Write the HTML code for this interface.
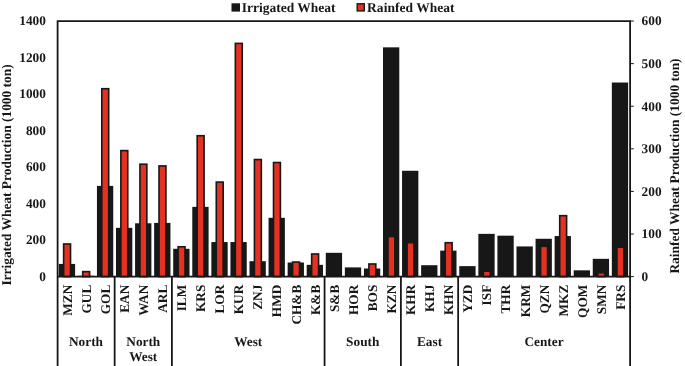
<!DOCTYPE html>
<html><head><meta charset="utf-8"><title>Wheat production</title>
<style>html,body{margin:0;padding:0;background:#fff}svg{display:block}text{font-family:"Liberation Serif","Times New Roman",serif;font-weight:bold;font-size:13.3px;fill:#171717;text-rendering:geometricPrecision}</style></head>
<body>
<svg width="685" height="366" viewBox="0 0 685 366">
<rect width="685" height="366" fill="#fff"/>
<rect x="58.80" y="263.93" width="16.30" height="12.67" fill="#171717"/>
<rect x="77.87" y="275.79" width="16.30" height="0.81" fill="#171717"/>
<rect x="96.94" y="185.90" width="16.30" height="90.70" fill="#171717"/>
<rect x="116.01" y="227.83" width="16.30" height="48.77" fill="#171717"/>
<rect x="135.08" y="223.28" width="16.30" height="53.32" fill="#171717"/>
<rect x="154.15" y="222.91" width="16.30" height="53.69" fill="#171717"/>
<rect x="173.22" y="248.80" width="16.30" height="27.80" fill="#171717"/>
<rect x="192.29" y="206.87" width="16.30" height="69.73" fill="#171717"/>
<rect x="211.36" y="242.06" width="16.30" height="34.54" fill="#171717"/>
<rect x="230.43" y="242.06" width="16.30" height="34.54" fill="#171717"/>
<rect x="249.50" y="261.20" width="16.30" height="15.40" fill="#171717"/>
<rect x="268.57" y="217.81" width="16.30" height="58.79" fill="#171717"/>
<rect x="287.64" y="262.48" width="16.30" height="14.12" fill="#171717"/>
<rect x="306.71" y="264.85" width="16.30" height="11.75" fill="#171717"/>
<rect x="325.78" y="252.81" width="16.30" height="23.79" fill="#171717"/>
<rect x="344.85" y="267.40" width="16.30" height="9.20" fill="#171717"/>
<rect x="363.92" y="268.49" width="16.30" height="8.11" fill="#171717"/>
<rect x="382.99" y="47.34" width="16.30" height="229.26" fill="#171717"/>
<rect x="402.06" y="170.77" width="16.30" height="105.83" fill="#171717"/>
<rect x="421.13" y="265.21" width="16.30" height="11.39" fill="#171717"/>
<rect x="440.20" y="250.62" width="16.30" height="25.98" fill="#171717"/>
<rect x="459.27" y="266.12" width="16.30" height="10.48" fill="#171717"/>
<rect x="478.34" y="233.85" width="16.30" height="42.75" fill="#171717"/>
<rect x="497.41" y="235.67" width="16.30" height="40.93" fill="#171717"/>
<rect x="516.48" y="246.43" width="16.30" height="30.17" fill="#171717"/>
<rect x="535.55" y="238.77" width="16.30" height="37.83" fill="#171717"/>
<rect x="554.62" y="236.04" width="16.30" height="40.56" fill="#171717"/>
<rect x="573.69" y="270.32" width="16.30" height="6.28" fill="#171717"/>
<rect x="592.76" y="258.83" width="16.30" height="17.77" fill="#171717"/>
<rect x="611.83" y="82.52" width="16.30" height="194.08" fill="#171717"/>
<rect x="63.63" y="243.98" width="6.90" height="32.62" fill="#e33222" stroke="#171717" stroke-width="1.6"/>
<rect x="82.71" y="271.63" width="6.90" height="4.97" fill="#e33222" stroke="#171717" stroke-width="1.6"/>
<rect x="101.79" y="88.70" width="6.90" height="187.90" fill="#e33222" stroke="#171717" stroke-width="1.6"/>
<rect x="120.87" y="150.60" width="6.90" height="126.00" fill="#e33222" stroke="#171717" stroke-width="1.6"/>
<rect x="139.95" y="164.21" width="6.90" height="112.39" fill="#e33222" stroke="#171717" stroke-width="1.6"/>
<rect x="159.03" y="165.92" width="6.90" height="110.68" fill="#e33222" stroke="#171717" stroke-width="1.6"/>
<rect x="178.11" y="246.75" width="6.90" height="29.85" fill="#e33222" stroke="#171717" stroke-width="1.6"/>
<rect x="197.19" y="135.71" width="6.90" height="140.89" fill="#e33222" stroke="#171717" stroke-width="1.6"/>
<rect x="216.27" y="182.08" width="6.90" height="94.52" fill="#e33222" stroke="#171717" stroke-width="1.6"/>
<rect x="235.35" y="43.40" width="6.90" height="233.20" fill="#e33222" stroke="#171717" stroke-width="1.6"/>
<rect x="254.43" y="159.53" width="6.90" height="117.07" fill="#e33222" stroke="#171717" stroke-width="1.6"/>
<rect x="273.51" y="162.51" width="6.90" height="114.09" fill="#e33222" stroke="#171717" stroke-width="1.6"/>
<rect x="292.59" y="262.06" width="6.90" height="14.54" fill="#e33222" stroke="#171717" stroke-width="1.6"/>
<rect x="311.67" y="253.98" width="6.90" height="22.62" fill="#e33222" stroke="#171717" stroke-width="1.6"/>
<rect x="368.91" y="263.97" width="6.90" height="12.63" fill="#e33222" stroke="#171717" stroke-width="1.6"/>
<rect x="387.99" y="236.54" width="6.90" height="40.06" fill="#e33222" stroke="#171717" stroke-width="1.6"/>
<rect x="407.07" y="242.70" width="6.90" height="33.90" fill="#e33222" stroke="#171717" stroke-width="1.6"/>
<rect x="445.23" y="242.70" width="6.90" height="33.90" fill="#e33222" stroke="#171717" stroke-width="1.6"/>
<rect x="483.39" y="271.21" width="6.90" height="5.39" fill="#e33222" stroke="#171717" stroke-width="1.6"/>
<rect x="540.63" y="246.32" width="6.90" height="30.28" fill="#e33222" stroke="#171717" stroke-width="1.6"/>
<rect x="559.71" y="215.69" width="6.90" height="60.91" fill="#e33222" stroke="#171717" stroke-width="1.6"/>
<rect x="597.87" y="272.70" width="6.90" height="3.90" fill="#e33222" stroke="#171717" stroke-width="1.6"/>
<rect x="616.95" y="247.17" width="6.90" height="29.43" fill="#e33222" stroke="#171717" stroke-width="1.6"/>
<path d="M57.60 366V21.05H630.10V366" fill="none" stroke="#171717" stroke-width="1.8"/>
<path d="M57.60 276.60H630.10" fill="none" stroke="#171717" stroke-width="1.7"/>
<path d="M114.65 276.60V366" stroke="#171717" stroke-width="1.8"/>
<path d="M171.90 276.60V366" stroke="#171717" stroke-width="1.8"/>
<path d="M324.57 276.60V366" stroke="#171717" stroke-width="1.8"/>
<path d="M400.90 276.60V366" stroke="#171717" stroke-width="1.8"/>
<path d="M458.15 276.60V366" stroke="#171717" stroke-width="1.8"/>
<path d="M630.10 276.60H633.80" stroke="#171717" stroke-width="1"/>
<text x="641.6" y="280.90">0</text>
<path d="M630.10 234.01H633.80" stroke="#171717" stroke-width="1"/>
<text x="641.6" y="238.31">100</text>
<path d="M630.10 191.42H633.80" stroke="#171717" stroke-width="1"/>
<text x="641.6" y="195.72">200</text>
<path d="M630.10 148.83H633.80" stroke="#171717" stroke-width="1"/>
<text x="641.6" y="153.13">300</text>
<path d="M630.10 106.23H633.80" stroke="#171717" stroke-width="1"/>
<text x="641.6" y="110.53">400</text>
<path d="M630.10 63.64H633.80" stroke="#171717" stroke-width="1"/>
<text x="641.6" y="67.94">500</text>
<path d="M630.10 21.05H633.80" stroke="#171717" stroke-width="1"/>
<text x="641.6" y="25.35">600</text>
<text x="45.9" y="280.90" text-anchor="end">0</text>
<text x="45.9" y="244.39" text-anchor="end">200</text>
<text x="45.9" y="207.89" text-anchor="end">400</text>
<text x="45.9" y="171.38" text-anchor="end">600</text>
<text x="45.9" y="134.87" text-anchor="end">800</text>
<text x="45.9" y="98.36" text-anchor="end">1000</text>
<text x="45.9" y="61.86" text-anchor="end">1200</text>
<text x="45.9" y="25.35" text-anchor="end">1400</text>
<text transform="translate(71.54 284.7) rotate(-90)" text-anchor="end">MZN</text>
<text transform="translate(90.62 284.7) rotate(-90)" text-anchor="end">GUL</text>
<text transform="translate(109.71 284.7) rotate(-90)" text-anchor="end">GOL</text>
<text transform="translate(128.79 284.7) rotate(-90)" text-anchor="end">EAN</text>
<text transform="translate(147.88 284.7) rotate(-90)" text-anchor="end">WAN</text>
<text transform="translate(166.96 284.7) rotate(-90)" text-anchor="end">ARL</text>
<text transform="translate(186.04 284.7) rotate(-90)" text-anchor="end">ILM</text>
<text transform="translate(205.12 284.7) rotate(-90)" text-anchor="end">KRS</text>
<text transform="translate(224.21 284.7) rotate(-90)" text-anchor="end">LOR</text>
<text transform="translate(243.29 284.7) rotate(-90)" text-anchor="end">KUR</text>
<text transform="translate(262.38 284.7) rotate(-90)" text-anchor="end">ZNJ</text>
<text transform="translate(281.46 284.7) rotate(-90)" text-anchor="end">HMD</text>
<text transform="translate(300.54 284.7) rotate(-90)" text-anchor="end">CH&amp;B</text>
<text transform="translate(319.62 284.7) rotate(-90)" text-anchor="end">K&amp;B</text>
<text transform="translate(338.71 284.7) rotate(-90)" text-anchor="end">S&amp;B</text>
<text transform="translate(357.79 284.7) rotate(-90)" text-anchor="end">HOR</text>
<text transform="translate(376.88 284.7) rotate(-90)" text-anchor="end">BOS</text>
<text transform="translate(395.96 284.7) rotate(-90)" text-anchor="end">KZN</text>
<text transform="translate(415.04 284.7) rotate(-90)" text-anchor="end">KHR</text>
<text transform="translate(434.12 284.7) rotate(-90)" text-anchor="end">KHJ</text>
<text transform="translate(453.21 284.7) rotate(-90)" text-anchor="end">KHN</text>
<text transform="translate(472.29 284.7) rotate(-90)" text-anchor="end">YZD</text>
<text transform="translate(491.38 284.7) rotate(-90)" text-anchor="end">ISF</text>
<text transform="translate(510.46 284.7) rotate(-90)" text-anchor="end">THR</text>
<text transform="translate(529.54 284.7) rotate(-90)" text-anchor="end">KRM</text>
<text transform="translate(548.62 284.7) rotate(-90)" text-anchor="end">QZN</text>
<text transform="translate(567.71 284.7) rotate(-90)" text-anchor="end">MKZ</text>
<text transform="translate(586.79 284.7) rotate(-90)" text-anchor="end">QOM</text>
<text transform="translate(605.88 284.7) rotate(-90)" text-anchor="end">SMN</text>
<text transform="translate(624.96 284.7) rotate(-90)" text-anchor="end">FRS</text>
<text x="86.02" y="345.5" text-anchor="middle">North</text>
<text x="143.28" y="345.5" text-anchor="middle">North</text>
<text x="143.28" y="361" text-anchor="middle">West</text>
<text x="248.23" y="345.5" text-anchor="middle">West</text>
<text x="362.73" y="345.5" text-anchor="middle">South</text>
<text x="429.53" y="345.5" text-anchor="middle">East</text>
<text x="544.02" y="345.5" text-anchor="middle">Center</text>
<text transform="translate(11.4 285.6) rotate(-90)" textLength="221.3" style="font-size:13.42px">Irrigated Wheat Production (1000 ton)</text>
<text transform="translate(678.8 273.6) rotate(-90)" textLength="215.2" style="font-size:13.42px">Rainfed Wheat Production (1000 ton)</text>
<rect x="231.5" y="3.3" width="8.5" height="8.3" fill="#171717"/>
<text x="241.8" y="11.5" textLength="93.6" style="font-size:13.5px">Irrigated Wheat</text>
<rect x="357.2" y="3.8" width="7.1" height="7.1" fill="#e33222" stroke="#171717" stroke-width="1.4"/>
<text x="367.1" y="11.5" textLength="87.4" style="font-size:13.5px">Rainfed Wheat</text>
</svg>
</body></html>
